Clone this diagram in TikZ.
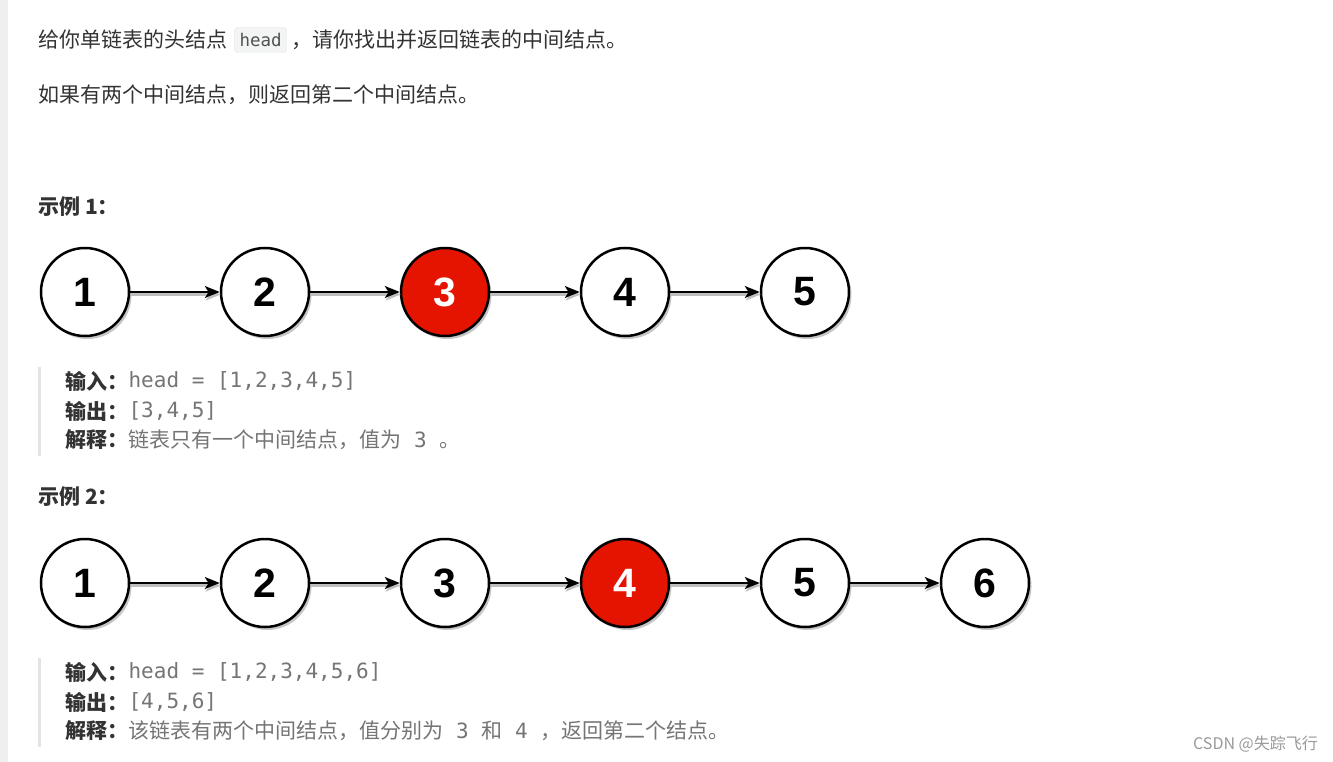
\documentclass[tikz,border=0pt]{standalone}
\usepackage{fontspec}
\setmainfont{Noto Sans CJK SC}
\setmonofont{DejaVu Sans Mono}
\newfontfamily\numfont{Liberation Sans}
\usepackage{xcolor}
\usetikzlibrary{arrows.meta, positioning, shadows}

\definecolor{txtdark}{HTML}{333333}
\definecolor{valgray}{HTML}{757575}
\definecolor{midred}{HTML}{E51400}
\definecolor{codebg}{HTML}{F3F4F4}
\definecolor{codeline}{HTML}{E6E6E6}
\definecolor{sidebar}{HTML}{EFEFEF}
\definecolor{quotebar}{HTML}{E3E3E3}
\definecolor{markgray}{HTML}{9A9A9A}

\tikzset{
  body/.style={anchor=west, inner sep=0, text=txtdark, font=\fontsize{21}{24}\selectfont},
  lbl/.style={body, font=\fontsize{21}{24}\selectfont\bfseries},
  val/.style={anchor=west, inner sep=0, text=valgray, font=\fontsize{21}{24}\selectfont},
  code/.style={draw=codeline, fill=codebg, rounded corners=3, inner xsep=5, inner ysep=0,
    minimum height=25, text=txtdark!85, font=\ttfamily\fontsize{17.5}{20}\selectfont},
  lnode/.style={circle, draw=black, line width=2.5, fill=white, minimum size=88, inner sep=0,
    font=\numfont\bfseries\fontsize{41}{41}\selectfont,
    drop shadow={shadow xshift=2.5pt, shadow yshift=-3pt, fill=black, opacity=0.22}},
  midnode/.style={lnode, fill=midred, text=white},
  lnk/.style={-{Stealth[length=15, width=12, inset=4]}, line width=2,
    preaction={draw=black!25, line width=2.5, transform canvas={xshift=1pt, yshift=-2.5pt}}}
}

\begin{document}
\begin{tikzpicture}[x=1pt, y=-1pt]

\useasboundingbox (0,0) rectangle (1333,762);
\fill[white] (0,0) rectangle (1333,762);
\fill[sidebar] (0,0) rectangle (8,762);

\node[body] (q1a) at (38,40) {给你单链表的头结点};
\node[code, right=7pt of q1a] (q1code) {head};
\node[body, right=4pt of q1code] (q1b) {，请你找出并返回链表的中间结点。};

\node[body] (q2) at (38,95) {如果有两个中间结点，则返回第二个中间结点。};

\node[lbl] (ex1) at (38,207) {示例 1：};

\node[lnode] (a1) at (85,292) {1};
\node[lnode] (a2) at (265,292) {2};
\node[midnode] (a3) at (445,292) {3};
\node[lnode] (a4) at (625,292) {4};
\node[lnode] (a5) at (805,292) {5};

\draw[lnk] (a1) -- (a2);
\draw[lnk] (a2) -- (a3);
\draw[lnk] (a3) -- (a4);
\draw[lnk] (a4) -- (a5);

\fill[quotebar] (38,367) rectangle (41,456);
\node[lbl] (in1) at (65,381) {输入：};
\node[val, right=0pt of in1] (in1v) {\ttfamily head = [1,2,3,4,5]};
\node[lbl] (out1) at (65,411) {输出：};
\node[val, right=0pt of out1] (out1v) {\ttfamily [3,4,5]};
\node[lbl] (why1) at (65,440) {解释：};
\node[val, right=0pt of why1] (why1v) {链表只有一个中间结点，值为\texttt{ 3 }。};

\node[lbl] (ex2) at (38,497) {示例 2：};

\node[lnode] (b1) at (85,583) {1};
\node[lnode] (b2) at (265,583) {2};
\node[lnode] (b3) at (445,583) {3};
\node[midnode] (b4) at (625,583) {4};
\node[lnode] (b5) at (805,583) {5};
\node[lnode] (b6) at (985,583) {6};

\draw[lnk] (b1) -- (b2);
\draw[lnk] (b2) -- (b3);
\draw[lnk] (b3) -- (b4);
\draw[lnk] (b4) -- (b5);
\draw[lnk] (b5) -- (b6);

\fill[quotebar] (38,658) rectangle (41,747);
\node[lbl] (in2) at (65,672) {输入：};
\node[val, right=0pt of in2] (in2v) {\ttfamily head = [1,2,3,4,5,6]};
\node[lbl] (out2) at (65,702) {输出：};
\node[val, right=0pt of out2] (out2v) {\ttfamily [4,5,6]};
\node[lbl] (why2) at (65,731) {解释：};
\node[val, right=0pt of why2] (why2v) {该链表有两个中间结点，值分别为\texttt{ 3 }和\texttt{ 4 }，返回第二个结点。};

\node[anchor=east, inner sep=0, text=markgray, font=\fontsize{16}{18}\selectfont] (mark) at (1318,744) {CSDN @失踪飞行};

\end{tikzpicture}
\end{document}
